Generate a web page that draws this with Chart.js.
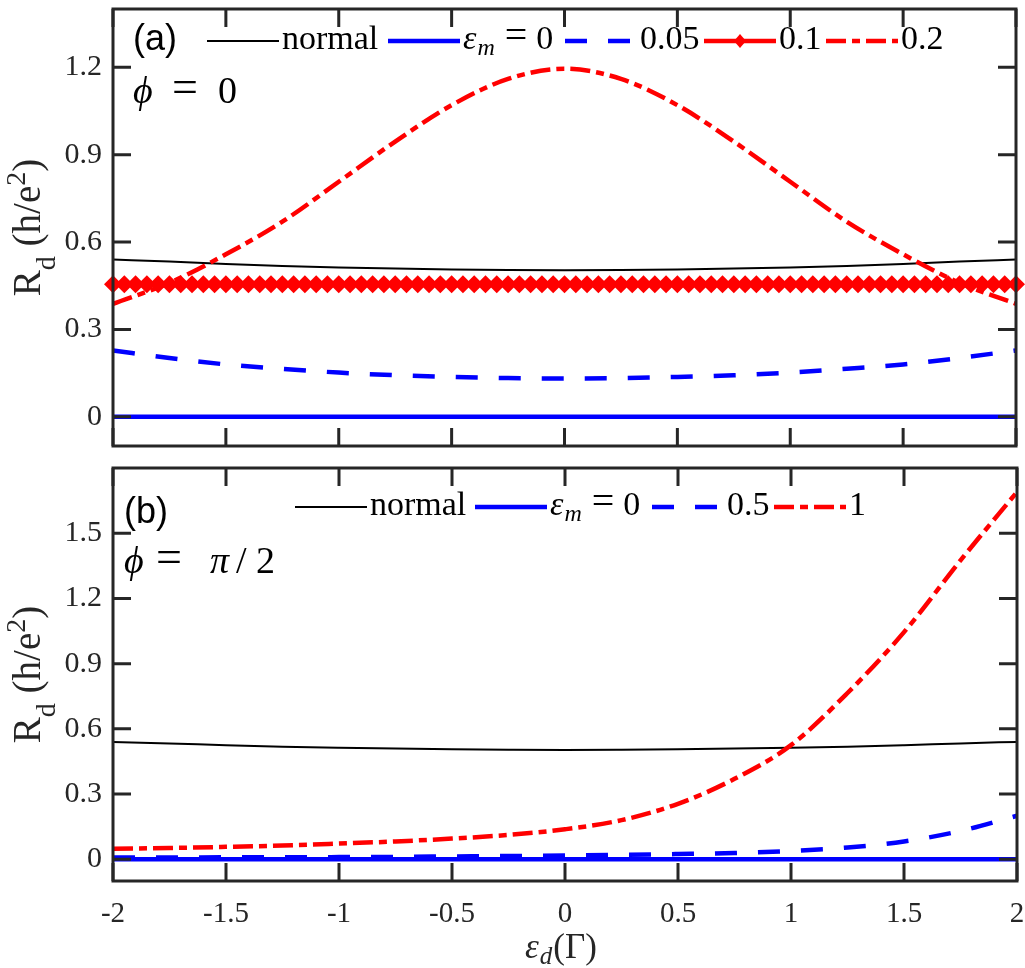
<!DOCTYPE html>
<html>
<head>
<meta charset="utf-8">
<script src="https://cdn.jsdelivr.net/npm/chart.js@4.4.1/dist/chart.umd.min.js"></script>
<style>
  html, body { margin: 0; padding: 0; background: #fff; }
  #wrap { position: relative; width: 1025px; height: 968px; }
  #cA { position: absolute; left: 0; top: 0; }
  #cB { position: absolute; left: 0; top: 460px; }
</style>
</head>
<body>
<div id="wrap">
  <canvas id="cA" width="1025" height="460"></canvas>
  <canvas id="cB" width="1025" height="508"></canvas>
</div>
<script>
// ================= DATA =================
const xs = [-2, -1.75, -1.5, -1.25, -1, -0.75, -0.5, -0.25, 0, 0.25, 0.5, 0.75, 1, 1.25, 1.5, 1.75, 2];

// normal lead (same in both panels)
const normal = [0.540, 0.533, 0.525, 0.518, 0.513, 0.509, 0.506, 0.504, 0.503, 0.504, 0.506, 0.509, 0.513, 0.518, 0.525, 0.533, 0.540];

// panel (a), phi = 0
const aEm0   = [0, 0, 0, 0, 0, 0, 0, 0, 0, 0, 0, 0, 0, 0, 0, 0, 0];
const aEm005 = [0.228, 0.202, 0.180, 0.165, 0.152, 0.143, 0.137, 0.133, 0.132, 0.133, 0.137, 0.143, 0.152, 0.165, 0.180, 0.202, 0.228];
const aEm02  = [0.388, 0.460, 0.558, 0.670, 0.807, 0.945, 1.070, 1.160, 1.195, 1.160, 1.070, 0.945, 0.807, 0.670, 0.558, 0.460, 0.388];
// em = 0.1 is drawn with markers on a finer grid
const xsFine = [-2, -1.95, -1.9, -1.85, -1.8, -1.75, -1.7, -1.65, -1.6, -1.55, -1.5, -1.45, -1.4, -1.35, -1.3, -1.25, -1.2, -1.15, -1.1, -1.05,
                -1, -0.95, -0.9, -0.85, -0.8, -0.75, -0.7, -0.65, -0.6, -0.55, -0.5, -0.45, -0.4, -0.35, -0.3, -0.25, -0.2, -0.15, -0.1, -0.05,
                0, 0.05, 0.1, 0.15, 0.2, 0.25, 0.3, 0.35, 0.4, 0.45, 0.5, 0.55, 0.6, 0.65, 0.7, 0.75, 0.8, 0.85, 0.9, 0.95,
                1, 1.05, 1.1, 1.15, 1.2, 1.25, 1.3, 1.35, 1.4, 1.45, 1.5, 1.55, 1.6, 1.65, 1.7, 1.75, 1.8, 1.85, 1.9, 1.95, 2];
const aEm01  = [0.455, 0.455, 0.455, 0.455, 0.455, 0.455, 0.455, 0.455, 0.455, 0.455, 0.455, 0.455, 0.455, 0.455, 0.455, 0.455, 0.455, 0.455, 0.455, 0.455,
                0.455, 0.455, 0.455, 0.455, 0.455, 0.455, 0.455, 0.455, 0.455, 0.455, 0.455, 0.455, 0.455, 0.455, 0.455, 0.455, 0.455, 0.455, 0.455, 0.455,
                0.455, 0.455, 0.455, 0.455, 0.455, 0.455, 0.455, 0.455, 0.455, 0.455, 0.455, 0.455, 0.455, 0.455, 0.455, 0.455, 0.455, 0.455, 0.455, 0.455,
                0.455, 0.455, 0.455, 0.455, 0.455, 0.455, 0.455, 0.455, 0.455, 0.455, 0.455, 0.455, 0.455, 0.455, 0.455, 0.455, 0.455, 0.455, 0.455, 0.455, 0.455];

// panel (b), phi = pi/2
const bEm0   = [0, 0, 0, 0, 0, 0, 0, 0, 0, 0, 0, 0, 0, 0, 0, 0, 0];
const bEm05  = [0.008, 0.008, 0.009, 0.009, 0.010, 0.011, 0.013, 0.015, 0.017, 0.020, 0.024, 0.029, 0.038, 0.054, 0.082, 0.130, 0.200];
const bEm1   = [0.048, 0.052, 0.057, 0.063, 0.072, 0.082, 0.095, 0.112, 0.138, 0.180, 0.255, 0.370, 0.525, 0.765, 1.045, 1.375, 1.690];

// ticks & labels
const xTicks = [-2, -1.5, -1, -0.5, 0, 0.5, 1, 1.5, 2];
const xTickLabels = ['-2', '-1.5', '-1', '-0.5', '0', '0.5', '1', '1.5', '2'];
const yTicksA = [0, 0.3, 0.6, 0.9, 1.2];
const yTicksB = [0, 0.3, 0.6, 0.9, 1.2, 1.5];
const yLabelsA = ['0', '0.3', '0.6', '0.9', '1.2'];
const yLabelsB = ['0', '0.3', '0.6', '0.9', '1.2', '1.5'];

const legendA = ['normal', 'ε_m = 0', '0.05', '0.1', '0.2'];
const legendB = ['normal', 'ε_m = 0', '0.5', '1'];

// ================= STYLE =================
const SERIF = '"Liberation Serif", "Times New Roman", serif';
const SANS = '"Liberation Sans", Arial, sans-serif';
const INK = '#262626';
const TICK = 18;
const DASH = [22, 21];
const DASHDOT = [20, 6, 8, 6];

const ST = {
  normal:  { color: '#000000', width: 2,   dash: [] },
  solidB:  { color: '#0000ff', width: 4.5, dash: [] },
  dashB:   { color: '#0000ff', width: 4.5, dash: DASH },
  diamR:   { color: '#ff0000', width: 4.5, dash: [], marker: true },
  dashdotR:{ color: '#ff0000', width: 4.5, dash: DASHDOT }
};

function pts(xv, yv) { return xv.map((x, i) => ({ x: x, y: yv[i] })); }

function ds(label, xv, yv, st, order) {
  return {
    label: label,
    data: pts(xv, yv),
    borderColor: st.color,
    backgroundColor: st.color,
    borderWidth: st.width,
    borderDash: st.dash,
    borderCapStyle: 'butt',
    pointRadius: st.marker ? 9 : 0,
    pointStyle: 'rectRot',
    pointBorderWidth: 0,
    cubicInterpolationMode: 'monotone',
    clip: st.marker ? false : 3,
    order: order
  };
}

// ================= HELPERS =================
function drawLegendLabel(ctx, x, base, label, size) {
  ctx.fillStyle = '#000';
  ctx.textAlign = 'left';
  ctx.textBaseline = 'alphabetic';
  if (label.startsWith('ε_m')) {
    ctx.font = 'italic ' + size + 'px ' + SERIF;
    ctx.fillText('ε', x, base);
    x += ctx.measureText('ε').width + 1;
    ctx.font = 'italic ' + Math.round(size * 0.72) + 'px ' + SERIF;
    ctx.fillText('m', x, base + 6);
    x += ctx.measureText('m').width + 10;
    ctx.font = (size + 6) + 'px ' + SERIF;
    ctx.fillText('=', x, base - 1);
    x += ctx.measureText('=').width + 9;
    ctx.font = size + 'px ' + SERIF;
    ctx.fillText(label.split('=')[1].trim(), x, base);
  } else {
    ctx.font = size + 'px ' + SERIF;
    ctx.fillText(label, x, base);
  }
}

function drawSample(ctx, x0, y, st) {
  ctx.save();
  ctx.strokeStyle = st.color;
  ctx.lineWidth = st.width;
  ctx.setLineDash(st.dash);
  ctx.lineCap = 'butt';
  ctx.beginPath();
  ctx.moveTo(x0, y);
  ctx.lineTo(x0 + 72, y);
  ctx.stroke();
  if (st.marker) {
    ctx.fillStyle = st.color;
    ctx.beginPath();
    ctx.moveTo(x0 + 36, y - 7);
    ctx.lineTo(x0 + 42, y);
    ctx.lineTo(x0 + 36, y + 7);
    ctx.lineTo(x0 + 30, y);
    ctx.closePath();
    ctx.fill();
  }
  ctx.restore();
}

function drawYTitle(ctx, tx, cy) {
  const big = 39, small = 28;
  const segs = [
    ['R', big, 0], ['d', small, 15], [' (h/e', big, 0], ['2', small, -15], [')', big, 0]
  ];
  let w = 0;
  segs.forEach(s => { ctx.font = s[1] + 'px ' + SERIF; w += ctx.measureText(s[0]).width; });
  ctx.save();
  ctx.translate(tx, cy);
  ctx.rotate(-Math.PI / 2);
  ctx.fillStyle = INK;
  ctx.textAlign = 'left';
  ctx.textBaseline = 'alphabetic';
  let x = -w / 2;
  segs.forEach(s => {
    ctx.font = s[1] + 'px ' + SERIF;
    ctx.fillText(s[0], x, s[2]);
    x += ctx.measureText(s[0]).width;
  });
  ctx.restore();
}

// frame + inner ticks on all four sides
const framePlugin = {
  id: 'frame',
  afterDatasetsDraw(chart) {
    const ctx = chart.ctx, a = chart.chartArea;
    const sx = chart.scales.x, sy = chart.scales.y;
    ctx.save();
    ctx.strokeStyle = INK;
    ctx.lineWidth = 3;
    ctx.setLineDash([]);
    ctx.beginPath();
    sx.ticks.forEach(t => {
      const px = sx.getPixelForValue(t.value);
      ctx.moveTo(px, a.bottom); ctx.lineTo(px, a.bottom - TICK);
      ctx.moveTo(px, a.top); ctx.lineTo(px, a.top + TICK);
    });
    sy.ticks.forEach(t => {
      const py = sy.getPixelForValue(t.value);
      ctx.moveTo(a.left, py); ctx.lineTo(a.left + TICK, py);
      ctx.moveTo(a.right, py); ctx.lineTo(a.right - TICK, py);
    });
    ctx.stroke();
    ctx.strokeRect(a.left, a.top, a.right - a.left, a.bottom - a.top);
    ctx.restore();
  }
};

function decoPlugin(spec) {
  return {
    id: 'deco',
    afterDraw(chart) {
      const ctx = chart.ctx, a = chart.chartArea;
      ctx.save();
      // panel tag
      ctx.fillStyle = '#000';
      ctx.textAlign = 'left';
      ctx.textBaseline = 'alphabetic';
      ctx.font = '36px ' + SANS;
      ctx.fillText(spec.tag, spec.tagX, spec.tagY);
      // phi annotation
      spec.phi.forEach(p => {
        const sz = p[0] === '=' ? 46 : 38;
        ctx.font = (p[3] ? 'italic ' : '') + sz + 'px ' + SERIF;
        ctx.fillText(p[0], p[1], p[2] + (p[0] === '=' ? -1 : 0));
      });
      // legend
      spec.labels.forEach((lab, i) => {
        drawSample(ctx, spec.legX[i], spec.legY, spec.styles[i]);
        drawLegendLabel(ctx, spec.legX[i] + 75, spec.legY + 8, lab, 34);
      });
      // y title
      drawYTitle(ctx, 40, (a.top + a.bottom) / 2);
      // x title
      if (spec.xTitle) {
        let x = 525;
        const b = spec.xTitleY;
        ctx.fillStyle = INK;
        ctx.font = 'italic 35px ' + SERIF;
        ctx.fillText('ε', x, b);
        x += ctx.measureText('ε').width + 1;
        ctx.font = 'italic 25px ' + SERIF;
        ctx.fillText('d', x, b + 6);
        x += ctx.measureText('d').width + 1;
        ctx.font = '35px ' + SERIF;
        ctx.fillText('(Γ)', x, b);
      }
      ctx.restore();
    }
  };
}

function noPad(s) {
  s.paddingTop = 0; s.paddingBottom = 0; s.paddingLeft = 0; s.paddingRight = 0;
}

function makeOptions(yMin, yMax, yTicks, yLabels, showX, padTop, xH) {
  return {
    responsive: false,
    animation: false,
    layout: { padding: { top: padTop, right: 8, left: 0, bottom: 0 } },
    plugins: { legend: { display: false }, tooltip: { enabled: false } },
    scales: {
      x: {
        type: 'linear', min: -2, max: 2,
        afterBuildTicks: s => { s.ticks = xTicks.map(v => ({ value: v })); },
        afterFit: s => { s.height = xH; noPad(s); },
        ticks: {
          display: showX, autoSkip: false, maxRotation: 0, padding: 16,
          color: INK, font: { family: SERIF, size: 29 },
          callback: (v, i) => xTickLabels[i]
        },
        grid: { display: false, drawTicks: false },
        border: { display: false }
      },
      y: {
        type: 'linear', min: yMin, max: yMax,
        afterBuildTicks: s => { s.ticks = yTicks.map(v => ({ value: v })); },
        afterFit: s => { s.width = 113; noPad(s); },
        ticks: {
          padding: 11, color: INK, font: { family: SERIF, size: 30 },
          callback: (v, i) => yLabels[i]
        },
        grid: { display: false, drawTicks: false },
        border: { display: false }
      }
    }
  };
}

// ================= PANEL (a) =================
new Chart(document.getElementById('cA'), {
  type: 'line',
  data: {
    datasets: [
      ds('normal', xs, normal, ST.normal, 5),
      ds('em=0', xs, aEm0, ST.solidB, 4),
      ds('0.05', xs, aEm005, ST.dashB, 3),
      ds('0.1', xsFine, aEm01, ST.diamR, 2),
      ds('0.2', xs, aEm02, ST.dashdotR, 1)
    ]
  },
  options: makeOptions(-0.1, 1.4, yTicksA, yLabelsA, false, 2, 14),
  plugins: [framePlugin, decoPlugin({
    tag: '(a)', tagX: 133, tagY: 50,
    phi: [['ϕ', 133, 103, true], ['=', 172, 103, false], ['0', 218, 103, false]],
    labels: legendA,
    styles: [ST.normal, ST.solidB, ST.dashB, ST.diamR, ST.dashdotR],
    legX: [207, 388, 565, 704, 826], legY: 41,
    xTitle: false
  })]
});

// ================= PANEL (b) =================
new Chart(document.getElementById('cB'), {
  type: 'line',
  data: {
    datasets: [
      ds('normal', xs, normal, ST.normal, 4),
      ds('em=0', xs, bEm0, ST.solidB, 3),
      ds('0.5', xs, bEm05, ST.dashB, 2),
      ds('1', xs, bEm1, ST.dashdotR, 1)
    ]
  },
  options: makeOptions(-0.1, 1.8, yTicksB, yLabelsB, true, 8, 87),
  plugins: [framePlugin, decoPlugin({
    tag: '(b)', tagX: 124, tagY: 63,
    phi: [['ϕ', 124, 113, true], ['=', 156, 113, false], ['π', 210, 113, true], ['/', 236, 113, false], ['2', 256, 113, false]],
    labels: legendB,
    styles: [ST.normal, ST.solidB, ST.dashB, ST.dashdotR],
    legX: [295, 475, 652, 774], legY: 47,
    xTitle: true, xTitleY: 498
  })]
});
</script>
</body>
</html>
